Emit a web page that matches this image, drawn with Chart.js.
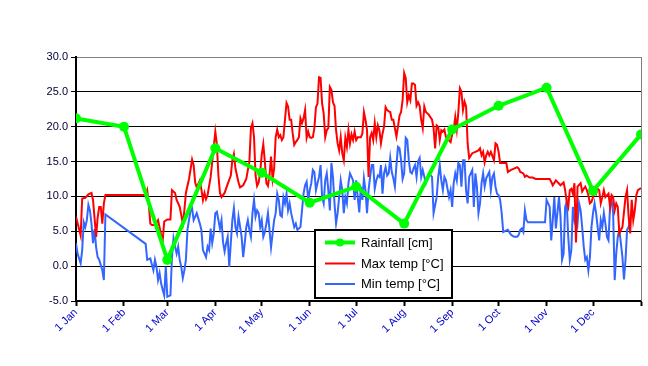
<!DOCTYPE html>
<html>
<head>
<meta charset="utf-8">
<script src="https://cdn.jsdelivr.net/npm/chart.js@4/dist/chart.umd.min.js"></script>
<style>
html,body{margin:0;padding:0;background:#fff;}
#wrap{position:relative;width:648px;height:366px;}
</style>
</head>
<body>
<div id="wrap"><canvas id="c" width="648" height="366"></canvas></div>
<script>
// ---- data ----
const monthLabels = ['1 Jan','1 Feb','1 Mar','1 Apr','1 May','1 Jun','1 Jul','1 Aug','1 Sep','1 Oct','1 Nov','1 Dec',''];
const monthDays = [0,31,59,90,120,151,181,212,243,273,304,334,365];
const rainfall = [21.2,20.0,0.9,16.9,13.4,9.1,11.4,6.1,19.6,23.0,25.6,10.8,18.9];
const yTicks = [-5,0,5,10,15,20,25,30];
const seriesNames = ['Rainfall [cm]','Max temp [°C]','Min temp [°C]'];

// [day of year, value]
const maxTemp = [[0,7.1],[3,4.4],[4,9.7],[6,9.8],[8,10.3],[10,10.5],[11,9.5],[13,4.2],[14,7.0],[15,8.5],[16,8.5],[17,6.1],[18,9.0],[19,10.2],[45,10.2],[46,10.9],[47,9.0],[48,6.1],[49,5.9],[51,5.9],[53,6.6],[55,4.5],[56,3.7],[57,6.4],[59,6.7],[61,6.7],[62,10.9],[64,10.5],[65,9.5],[67,8.5],[69,6.1],[70,8.0],[71,10.5],[73,12.5],[75,15.3],[76,14.5],[77,12.0],[78,11.3],[80,12.3],[81,11.0],[82,9.5],[83,10.5],[84,9.6],[85,10.2],[87,12.8],[88,15.0],[90,19.3],[91,17.5],[92,13.0],[93,10.5],[94,9.9],[96,10.5],[98,11.8],[100,13.0],[101,15.2],[102,16.1],[103,14.0],[105,12.0],[106,11.3],[108,11.6],[110,12.5],[112,15.0],[113,19.8],[114,20.5],[115,18.5],[116,13.0],[117,11.5],[118,12.0],[119,13.5],[120,16.0],[121,17.5],[122,15.0],[123,11.9],[124,11.5],[125,13.0],[126,15.7],[127,12.5],[128,14.0],[129,18.5],[130,19.6],[131,18.5],[132,18.8],[133,18.1],[134,18.5],[135,21.0],[136,23.4],[137,22.9],[138,21.0],[139,21.0],[140,19.0],[141,17.4],[142,17.8],[143,18.1],[144,18.5],[145,21.2],[146,20.5],[147,21.2],[148,22.4],[149,18.4],[150,19.3],[151,18.5],[152,18.4],[153,18.5],[154,19.8],[155,22.8],[156,23.3],[157,27.1],[158,27.0],[159,23.3],[160,21.9],[161,18.5],[162,19.5],[163,19.8],[164,25.7],[165,25.3],[166,23.5],[167,23.0],[168,19.5],[169,17.6],[170,16.6],[171,18.5],[172,16.2],[173,15.2],[174,18.4],[175,17.1],[176,19.5],[177,17.6],[178,18.9],[179,18.1],[180,19.3],[181,18.1],[182,18.5],[183,18.5],[184,18.5],[185,19.0],[186,22.1],[187,21.0],[188,19.5],[189,12.8],[190,18.5],[191,19.1],[192,18.1],[193,20.5],[194,18.5],[195,20.2],[196,19.5],[197,17.6],[198,19.0],[199,20.0],[200,22.8],[201,22.4],[202,22.2],[203,22.1],[204,21.0],[205,21.0],[206,19.8],[207,18.6],[208,20.0],[209,21.6],[210,22.1],[211,23.8],[212,27.7],[213,27.0],[214,23.5],[215,24.5],[216,23.8],[217,26.2],[218,26.2],[219,26.0],[220,23.0],[221,23.5],[222,23.0],[223,21.0],[224,19.8],[225,22.9],[226,22.1],[228,21.7],[230,21.0],[231,19.8],[232,16.9],[233,20.2],[234,20.0],[235,18.1],[236,19.5],[237,19.3],[238,19.6],[239,18.5],[242,17.8],[243,18.9],[244,19.6],[245,21.4],[246,19.6],[247,22.1],[248,25.5],[249,25.0],[250,22.4],[251,23.6],[252,22.9],[253,17.6],[254,15.5],[256,16.2],[258,16.4],[260,16.6],[261,16.9],[262,15.9],[263,16.4],[264,14.9],[265,15.9],[266,16.4],[267,15.9],[268,16.4],[270,15.2],[271,17.6],[272,17.4],[273,16.4],[274,14.8],[278,14.8],[279,13.5],[281,13.8],[283,14.0],[285,14.2],[286,14.0],[287,13.5],[289,13.3],[290,12.8],[291,13.0],[293,12.7],[295,12.7],[297,12.5],[306,12.5],[307,12.1],[308,11.6],[310,12.3],[313,11.6],[315,12.0],[316,10.9],[317,9.2],[318,8.5],[319,10.9],[320,11.1],[321,10.4],[322,11.9],[323,3.4],[324,11.4],[326,11.9],[327,10.7],[328,11.1],[329,11.4],[330,10.9],[331,10.2],[332,9.0],[333,9.2],[334,9.9],[335,10.9],[336,10.4],[337,11.1],[338,10.9],[339,9.0],[340,9.9],[341,10.9],[342,9.9],[344,10.4],[345,8.5],[346,10.2],[347,9.9],[348,8.0],[349,9.0],[350,8.5],[351,4.7],[352,5.2],[353,5.6],[355,9.9],[356,10.9],[357,7.1],[358,4.7],[359,9.5],[360,6.6],[361,8.0],[362,10.2],[363,10.9],[365,11.2]];

const minTemp = [[0,3.3],[1,1.8],[3,0.4],[4,2.3],[5,6.3],[6,5.6],[7,6.6],[8,8.8],[9,8.0],[10,6.1],[11,3.3],[12,5.3],[13,2.7],[14,1.3],[15,0.9],[17,-0.6],[18,-2.0],[19,7.4],[45,3.2],[46,0.9],[48,1.1],[50,-0.6],[51,0.9],[52,-0.1],[53,-2.0],[54,-1.0],[55,-2.5],[56,-3.4],[57,-4.2],[58,-0.1],[59,-4.4],[61,-4.2],[62,1.3],[63,4.0],[64,2.8],[65,1.8],[66,2.8],[67,0.9],[68,-0.1],[69,-1.7],[70,-0.6],[71,0.9],[72,5.2],[74,8.0],[75,8.3],[76,6.6],[78,7.6],[80,6.1],[81,5.2],[82,2.3],[83,1.8],[84,1.3],[85,2.8],[86,2.3],[87,5.4],[88,3.3],[89,4.7],[90,7.6],[91,7.8],[93,5.4],[94,6.6],[95,3.4],[96,2.1],[97,3.3],[98,4.2],[99,-0.1],[100,3.3],[101,6.6],[102,8.3],[103,5.6],[104,4.7],[105,7.1],[107,4.2],[108,1.3],[109,3.3],[110,5.6],[111,6.6],[112,5.2],[113,4.2],[114,7.6],[115,9.5],[116,7.1],[117,8.0],[118,7.6],[119,5.6],[120,6.6],[121,4.2],[122,4.9],[123,6.1],[124,7.6],[125,5.2],[126,2.7],[128,6.6],[129,7.6],[130,10.4],[131,9.5],[132,7.3],[133,7.1],[134,9.9],[135,9.0],[136,10.4],[137,8.0],[138,9.0],[139,7.6],[140,6.6],[141,5.6],[142,6.1],[143,5.2],[145,5.6],[146,8.0],[147,10.4],[148,11.6],[149,12.1],[150,9.5],[151,10.9],[152,11.9],[153,13.8],[154,13.5],[155,10.9],[156,11.9],[157,12.8],[158,14.5],[159,9.9],[160,9.0],[161,12.3],[162,13.3],[163,10.9],[164,8.0],[165,14.8],[166,12.8],[167,9.0],[168,6.1],[169,7.6],[170,9.9],[171,12.3],[172,10.9],[173,7.6],[174,9.9],[175,9.0],[176,11.9],[177,13.3],[178,12.8],[179,12.3],[180,9.5],[181,12.3],[182,9.9],[183,7.7],[184,11.4],[185,9.5],[186,12.6],[187,10.9],[188,7.6],[189,10.9],[190,12.8],[191,14.5],[192,14.5],[193,11.1],[194,12.3],[195,13.0],[196,12.8],[197,14.5],[198,10.4],[199,13.3],[200,14.2],[201,13.0],[202,13.3],[203,15.5],[204,13.5],[205,12.6],[206,11.4],[207,14.5],[208,17.1],[209,16.9],[210,15.2],[211,12.5],[212,13.3],[213,18.4],[214,18.1],[215,15.2],[216,13.5],[217,13.3],[218,14.0],[219,14.5],[220,12.8],[221,15.0],[222,15.5],[223,12.8],[224,13.8],[226,11.9],[228,13.3],[230,12.8],[231,7.6],[233,9.9],[234,12.8],[235,14.5],[236,12.3],[237,10.9],[238,12.8],[239,12.3],[241,9.9],[242,10.9],[243,8.5],[244,11.9],[245,13.3],[246,12.3],[247,14.8],[248,14.5],[249,11.4],[250,15.2],[251,15.2],[252,10.9],[253,9.0],[254,12.8],[256,13.8],[257,8.5],[258,13.3],[259,11.4],[260,7.6],[261,9.0],[262,11.9],[263,13.3],[264,11.4],[265,12.6],[267,13.5],[268,10.9],[269,12.8],[270,13.3],[271,11.4],[272,10.4],[273,10.2],[274,9.5],[275,7.6],[276,4.9],[279,5.2],[281,4.5],[283,4.2],[285,4.2],[286,4.5],[287,5.2],[288,5.4],[289,4.9],[290,8.0],[291,6.6],[292,6.3],[303,6.3],[304,9.5],[305,9.0],[306,8.5],[307,3.7],[308,6.6],[309,9.9],[310,5.4],[312,9.9],[313,7.1],[314,0.9],[315,1.8],[316,8.5],[317,9.2],[318,4.2],[319,0.9],[320,2.3],[321,8.5],[322,6.6],[323,7.6],[324,6.1],[325,9.0],[326,8.0],[327,5.6],[328,2.8],[329,0.9],[330,1.3],[331,-0.6],[332,1.3],[333,5.6],[334,7.6],[335,9.0],[336,7.6],[337,5.6],[338,3.7],[339,6.6],[340,5.6],[341,7.6],[342,6.1],[343,4.2],[344,3.7],[345,8.5],[346,9.5],[347,7.6],[348,-2.0],[349,1.8],[350,4.2],[351,5.2],[352,3.3],[353,1.3],[354,-1.9],[355,0.9],[356,5.2],[357,5.6],[359,8.0]];

// ---- chart ----
const toXY = arr => arr.map(p => ({x: p[0], y: p[1]}));
const FONT = '"Liberation Sans", Arial, sans-serif';

const legendPlugin = {
  id: 'boxLegend',
  afterDatasetsDraw(chart) {
    const ctx = chart.ctx;
    const x0 = 315, y0 = 230, w = 137, h = 68;
    ctx.save();
    ctx.fillStyle = '#ffffff';
    ctx.fillRect(x0, y0, w, h);
    ctx.lineWidth = 2;
    ctx.strokeStyle = '#000000';
    ctx.strokeRect(x0, y0, w, h);
    const rows = [242.5, 263.5, 284];
    chart.data.datasets.forEach((ds, i) => {
      const y = rows[i];
      ctx.strokeStyle = ds.borderColor;
      ctx.lineWidth = ds.borderWidth;
      ctx.beginPath();
      ctx.moveTo(325, y);
      ctx.lineTo(355, y);
      ctx.stroke();
      if (ds.pointRadius > 0) {
        ctx.fillStyle = ds.borderColor;
        ctx.beginPath();
        ctx.arc(340, y, 4, 0, Math.PI * 2);
        ctx.fill();
      }
      ctx.fillStyle = '#000000';
      ctx.font = '13px ' + FONT;
      ctx.textBaseline = 'middle';
      ctx.textAlign = 'left';
      ctx.fillText(ds.label, 361, y + 0.5);
    });
    ctx.restore();
  },
  afterDraw(chart) {
    const a = chart.chartArea;
    const ctx = chart.ctx;
    ctx.save();
    ctx.strokeStyle = '#808080';
    ctx.lineWidth = 1;
    ctx.beginPath();
    ctx.moveTo(a.right + 0.5, a.top);
    ctx.lineTo(a.right + 0.5, a.bottom);
    ctx.stroke();
    ctx.restore();
  }
};

new Chart(document.getElementById('c'), {
  type: 'line',
  data: {
    datasets: [
      {
        label: seriesNames[0],
        data: monthDays.map((d, i) => ({x: d, y: rainfall[i]})),
        borderColor: '#00FF00',
        backgroundColor: '#00FF00',
        borderWidth: 4,
        pointRadius: 5,
        pointBorderWidth: 0,
        pointBackgroundColor: '#00FF00',
        tension: 0
      },
      {
        label: seriesNames[1],
        data: toXY(maxTemp),
        borderColor: '#FF0000',
        borderWidth: 2,
        pointRadius: 0,
        tension: 0
      },
      {
        label: seriesNames[2],
        data: toXY(minTemp),
        borderColor: '#3366FF',
        borderWidth: 2,
        pointRadius: 0,
        tension: 0
      }
    ]
  },
  options: {
    responsive: false,
    animation: false,
    devicePixelRatio: 1,
    layout: {padding: {top: 57, right: 7, left: 0, bottom: 0}},
    plugins: {legend: {display: false}, tooltip: {enabled: false}},
    scales: {
      x: {
        type: 'linear',
        min: 0,
        max: 365,
        afterBuildTicks: s => { s.ticks = monthDays.map(v => ({value: v})); },
        afterFit: s => { s.height = 65; s.paddingLeft = 0; s.paddingRight = 0; },
        ticks: {
          autoSkip: false,
          maxRotation: 45,
          minRotation: 45,
          padding: 0,
          color: '#0000CC',
          font: {family: FONT, size: 11},
          callback: v => { const i = monthDays.indexOf(v); return i >= 0 ? monthLabels[i] : ''; }
        },
        grid: {drawOnChartArea: false, drawTicks: true, tickLength: 5, tickColor: '#000000', tickWidth: 2},
        border: {color: '#000000', width: 2}
      },
      y: {
        min: -5,
        max: 30,
        afterBuildTicks: s => { s.ticks = yTicks.map(v => ({value: v})); },
        afterFit: s => { s.width = 76; s.paddingTop = 0; s.paddingBottom = 0; },
        ticks: {
          padding: 3,
          color: '#000033',
          font: {family: FONT, size: 11},
          callback: v => Number(v).toFixed(1)
        },
        grid: {
          color: ctx => (ctx.tick && ctx.tick.value === 30) ? '#808080' : '#000000',
          lineWidth: 1,
          tickLength: 5,
          tickColor: '#000000',
          tickWidth: 1
        },
        border: {color: '#000000', width: 2}
      }
    }
  },
  plugins: [legendPlugin]
});
</script>
</body>
</html>
